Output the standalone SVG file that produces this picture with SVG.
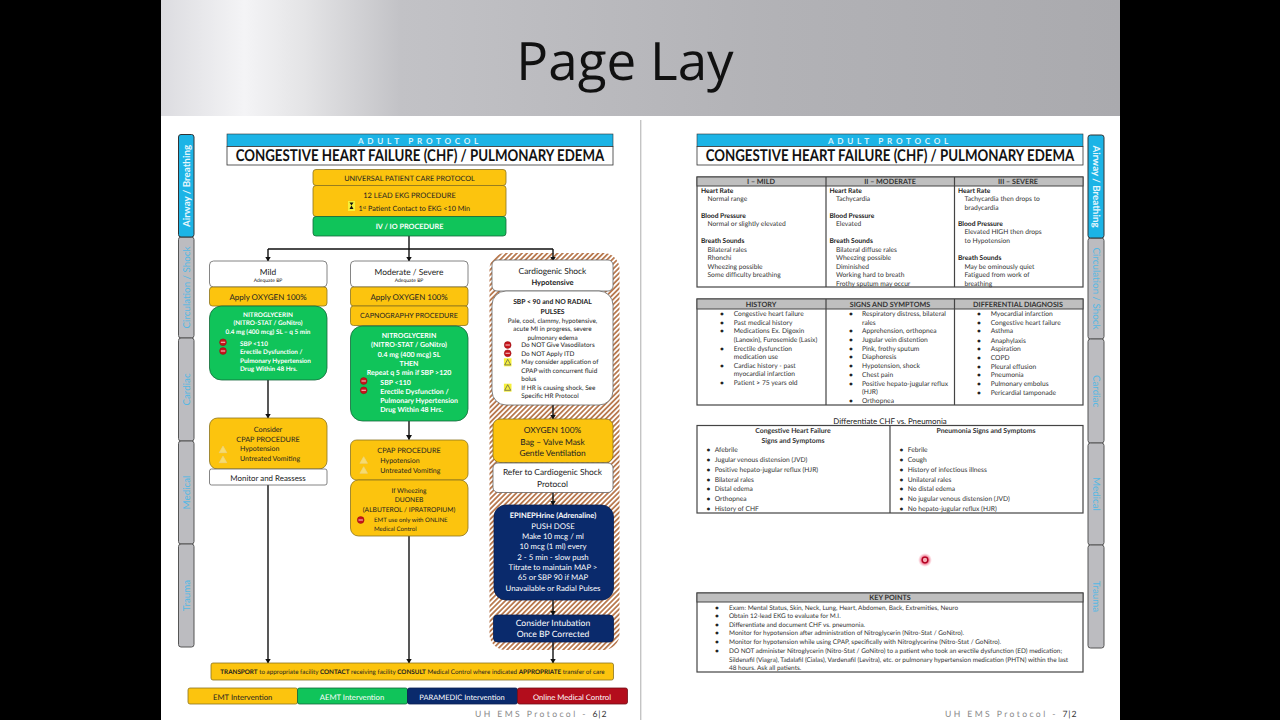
<svg xmlns="http://www.w3.org/2000/svg" width="1280" height="720" viewBox="0 0 1280 720">
<style>
text{font-family:Lato,"Open Sans","Liberation Sans",sans-serif;fill:#222;text-rendering:geometricPrecision}
.c{text-anchor:middle}
.b{font-weight:700}
.o{fill:#fcc40e;stroke:#8a7420;stroke-width:.8}
.g{fill:#10c45a;stroke:#14683a;stroke-width:.8}
.w{fill:#fff;stroke:#666;stroke-width:.8}
.n{fill:#0a2a6c;stroke:#0a2050;stroke-width:.8}
.t{fill:#bcbcc0;stroke:#555;stroke-width:1}
.tb{fill:#1cb4e6;stroke:#333;stroke-width:1}
.tl{font-size:9.800px;fill:#55b8e4;text-anchor:middle}
.ta{font-size:9.800px;fill:#e8f7fd;text-anchor:middle;font-weight:700}
.wt{fill:#fff}
.f8{font-size:7.700px}
.f7{font-size:7px}
.f6{font-size:6.400px}
.fm{font-size:8.400px}
.tx{font-size:6.700px;fill:#333}
.tx2{font-size:6.700px;fill:#222;font-weight:700}
.kp{font-size:6.450px;fill:#333}
.hd{font-size:7.200px;font-weight:700;text-anchor:middle;fill:#333}
.hs{font-size:6.900px;font-weight:700;text-anchor:middle;fill:#333}
.box{fill:#fff;stroke:#444;stroke-width:1.2}
.hbar{fill:#bfbfbf;stroke:#444;stroke-width:1}
.line{fill:none;stroke:#111;stroke-width:1.4}
.ti{font-size:16.200px;font-weight:700;fill:#111}
.ad{font-size:8.200px;fill:#d8f3fc;font-weight:700;text-anchor:middle;letter-spacing:3.700px}
.ft{font-size:8.600px;fill:#8a8a8a;letter-spacing:2.400px}
.dv{stroke:#444;stroke-width:1.2}
</style>
<defs>
<pattern id="hatch" width="3.600" height="3.600" patternUnits="userSpaceOnUse" patternTransform="rotate(45)">
<rect width="3.600" height="3.600" fill="#fff"/><rect width="1.800" height="3.600" fill="#b97a50"/>
</pattern>
<linearGradient id="top" x1="0" y1="0" x2="1" y2="0"><stop offset="0" stop-color="#dcdce0"/><stop offset=".087" stop-color="#f4f4f6"/><stop offset=".15" stop-color="#e4e4e6"/><stop offset=".25" stop-color="#c2c2c6"/><stop offset=".64" stop-color="#b2b2b6"/><stop offset="1" stop-color="#aaaaae"/></linearGradient>
<radialGradient id="glow"><stop offset="0" stop-color="#d8143a"/><stop offset=".4" stop-color="#e8355a"/><stop offset="1" stop-color="#f5a0b0" stop-opacity="0"/></radialGradient>
<marker id="ah" markerWidth="6" markerHeight="6" refX="4.500" refY="3" orient="auto" markerUnits="userSpaceOnUse"><path d="M0 0L5 3L0 6z" fill="#111"/></marker>
<g id="stop"><circle r="3.400" fill="#c8141c" stroke="#8a1010" stroke-width=".5"/><rect x="-2.200" y="-.6" width="4.400" height="1.200" fill="#f2b0b0"/></g>
<g id="warn"><path d="M0-3.600L3.800 3H-3.800z" fill="#f7dc6c" stroke="#e8d090" stroke-width=".6"/></g>
<g id="warny"><rect x="-3.800" y="-4" width="7.600" height="8" fill="#f6f03a"/><path d="M0-3L3 2.600H-3z" fill="none" stroke="#555" stroke-width=".7"/></g>
</defs>
<rect width="1280" height="720" fill="#000"/>
<rect x="161" y="0" width="959" height="720" fill="#fff"/>
<rect x="161" y="0" width="959" height="116" fill="url(#top)"/>
<rect x="640" y="120" width="1.400" height="600" fill="#c4c4c4"/>
<text x="625" y="80" class="c" style="font-family:'Open Sans',sans-serif;font-size:53px;fill:#111">Page Lay</text>

<g id="tabs-left">
<rect class="t" x="178.500" y="237" width="15.500" height="101" rx="2.500"/><text class="tl" transform="translate(190,287.500) rotate(-90)">Circulation / Shock</text>
<rect class="t" x="178.500" y="338" width="15.500" height="103" rx="2.500"/><text class="tl" transform="translate(190,389.500) rotate(-90)">Cardiac</text>
<rect class="t" x="178.500" y="441" width="15.500" height="103" rx="2.500"/><text class="tl" transform="translate(190,492.500) rotate(-90)">Medical</text>
<rect class="t" x="178.500" y="544" width="15.500" height="103" rx="2.500"/><text class="tl" transform="translate(190,595.500) rotate(-90)">Trauma</text>
<rect class="tb" x="178.500" y="134.500" width="15.500" height="102.500" rx="2.500"/><text class="ta" transform="translate(190,186) rotate(-90)">Airway / Breathing</text>
</g>
<g id="tabs-right">
<rect class="t" x="1088" y="238" width="16" height="101" rx="2.500"/><text class="tl" transform="translate(1092.500,288.500) rotate(90)">Circulation / Shock</text>
<rect class="t" x="1088" y="339" width="16" height="104" rx="2.500"/><text class="tl" transform="translate(1092.500,391) rotate(90)">Cardiac</text>
<rect class="t" x="1088" y="443" width="16" height="102" rx="2.500"/><text class="tl" transform="translate(1092.500,494) rotate(90)">Medical</text>
<rect class="t" x="1088" y="545" width="16" height="103" rx="2.500"/><text class="tl" transform="translate(1092.500,596.500) rotate(90)">Trauma</text>
<rect class="tb" x="1088" y="135" width="16" height="103" rx="2.500"/><text class="ta" transform="translate(1092.500,186.500) rotate(90)">Airway / Breathing</text>
</g>

<g id="header-left">
<rect x="227" y="134" width="386" height="12.500" fill="#1cb4e6" stroke="#333" stroke-width=".6"/>
<text x="420" y="143.800" class="ad">ADULT PROTOCOL</text>
<rect x="227" y="146.500" width="386" height="18.500" fill="#fff" stroke="#333" stroke-width=".8"/>
<text x="235.700" y="161" class="ti" textLength="368.500" lengthAdjust="spacingAndGlyphs">CONGESTIVE HEART FAILURE (CHF) / PULMONARY EDEMA</text>
</g>
<g id="header-right">
<rect x="697" y="134" width="386" height="12.500" fill="#1cb4e6" stroke="#333" stroke-width=".6"/>
<text x="890" y="143.800" class="ad">ADULT PROTOCOL</text>
<rect x="697" y="146.500" width="386" height="18.500" fill="#fff" stroke="#333" stroke-width=".8"/>
<text x="705.700" y="161" class="ti" textLength="368.500" lengthAdjust="spacingAndGlyphs">CONGESTIVE HEART FAILURE (CHF) / PULMONARY EDEMA</text>
</g>

<g id="hazard"><rect x="489.500" y="253" width="130" height="397" rx="16" fill="url(#hatch)"/></g>

<g id="connectors">
<path class="line" d="M409 236V249M268 249H553"/>
<path class="line" d="M268 249V261" marker-end="url(#ah)"/>
<path class="line" d="M409 249V261" marker-end="url(#ah)"/>
<path class="line" d="M553 249V261" marker-end="url(#ah)"/>
<path class="line" d="M268 380V418" marker-end="url(#ah)"/>
<path class="line" d="M409 421V439.500" marker-end="url(#ah)"/>
<path class="line" d="M268 485V663" marker-end="url(#ah)"/>
<path class="line" d="M409 536V663" marker-end="url(#ah)"/>
<path class="line" d="M553 405V419" marker-end="url(#ah)"/>
<path class="line" d="M553 492V505" marker-end="url(#ah)"/>
<path class="line" d="M553 600V615" marker-end="url(#ah)"/>
<path class="line" d="M553 642V663" marker-end="url(#ah)"/>
</g>

<g id="n-universal"><rect class="o" x="313" y="169.500" width="193" height="16" rx="3"/><text x="409.500" y="181" class="c" style="font-size:7.300px">UNIVERSAL PATIENT CARE PROTOCOL</text></g>
<g id="n-ekg"><rect class="o" x="313" y="185.500" width="193" height="31" rx="3"/><text x="409.500" y="197.500" class="c" style="font-size:7.500px">12 LEAD EKG PROCEDURE</text>
<rect x="348" y="201" width="7" height="10" fill="#f6f03a"/><path d="M349.500 202.500h4l-2 3l2 3.500h-4l2-3.500z" fill="#111"/>
<text x="358.500" y="210.500" style="font-size:7.200px">1<tspan dy="-2" font-size="4.500">st</tspan><tspan dy="2"> Patient Contact to EKG &lt;10 Min</tspan></text></g>
<g id="n-ivio"><rect class="g" x="313" y="216.500" width="193" height="19.500" rx="3"/><text x="409.500" y="228.500" class="c wt b" style="font-size:7.300px">IV / IO PROCEDURE</text></g>

<g id="n-mild"><rect class="w" x="209.500" y="261" width="117.500" height="26" rx="4"/><text x="268" y="274.500" class="c fm">Mild</text><text x="268" y="282.200" class="c" style="font-size:5px">Adequate BP</text></g>
<g id="n-oxy1"><rect class="o" x="209.500" y="287" width="117.500" height="19" rx="3"/><text x="268" y="299.500" class="c" style="font-size:8px">Apply OXYGEN 100%</text></g>
<g id="n-nitro1"><rect class="g" x="209.500" y="306" width="117.500" height="74" rx="12"/>
<text x="268" y="317" class="c f6 wt b">NITROGLYCERIN</text><text x="268" y="325" class="c f6 wt b">(NITRO-STAT / GoNitro)</text><text x="268" y="334" class="c f6 wt b">0.4 mg (400 mcg) SL – q 5 min</text>
<use href="#stop" x="223" y="342.300"/><use href="#stop" x="223" y="351"/>
<text x="240" y="346" class="f6 wt b">SBP &lt;110</text><text x="240" y="354.300" class="f6 wt b">Erectile Dysfunction /</text><text x="240" y="363" class="f6 wt b">Pulmonary Hypertension</text><text x="240" y="370.500" class="f6 wt b">Drug Within 48 Hrs.</text></g>
<g id="n-cpap1"><rect class="o" x="209.500" y="418" width="117.500" height="51" rx="8"/>
<text x="268" y="431.500" class="c" style="font-size:7.300px">Consider</text><text x="268" y="441.500" class="c" style="font-size:7.300px">CPAP PROCEDURE</text>
<use href="#warn" x="223" y="449.700"/><use href="#warn" x="223" y="459.700"/>
<text x="240" y="451.400" class="f7">Hypotension</text><text x="240" y="461.400" class="f7">Untreated Vomiting</text></g>
<g id="n-monitor"><rect class="w" x="209.500" y="469" width="117.500" height="16" rx="2"/><text x="268" y="480.500" class="c" style="font-size:7.900px">Monitor and Reassess</text></g>

<g id="n-mod"><rect class="w" x="350.500" y="261" width="117.500" height="26" rx="4"/><text x="409" y="274.500" class="c fm">Moderate / Severe</text><text x="409" y="282.200" class="c" style="font-size:5px">Adequate BP</text></g>
<g id="n-oxy2"><rect class="o" x="350.500" y="287" width="117.500" height="19" rx="3"/><text x="409" y="299.500" class="c" style="font-size:8px">Apply OXYGEN 100%</text></g>
<g id="n-capno"><rect class="o" x="350.500" y="306" width="117.500" height="19.500" rx="3"/><text x="409" y="317.700" class="c" style="font-size:7.150px">CAPNOGRAPHY PROCEDURE</text></g>
<g id="n-nitro2"><rect class="g" x="350.500" y="326" width="117.500" height="95" rx="12"/>
<text x="409" y="338" class="c f7 wt b">NITROGLYCERIN</text><text x="409" y="347.300" class="c f7 wt b">(NITRO-STAT / GoNitro)</text><text x="409" y="356.700" class="c f7 wt b">0.4 mg (400 mcg) SL</text><text x="409" y="366" class="c f7 wt b">THEN</text><text x="409" y="375.400" class="c f7 wt b">Repeat q 5 min if SBP &gt;120</text>
<use href="#stop" x="363.700" y="381"/><use href="#stop" x="363.700" y="390.300"/>
<text x="380.300" y="384.700" class="f7 wt b">SBP &lt;110</text><text x="380.300" y="393.700" class="f7 wt b">Erectile Dysfunction /</text><text x="380.300" y="403" class="f7 wt b">Pulmonary Hypertension</text><text x="380.300" y="412.400" class="f7 wt b">Drug Within 48 Hrs.</text></g>
<g id="n-cpap2"><rect class="o" x="350.500" y="440" width="117.500" height="40" rx="6"/>
<text x="409" y="453" class="c" style="font-size:7.300px">CPAP PROCEDURE</text>
<use href="#warn" x="363.700" y="460.300"/><use href="#warn" x="363.700" y="470.300"/>
<text x="380.300" y="462.700" class="f7">Hypotension</text><text x="380.300" y="472.700" class="f7">Untreated Vomiting</text></g>
<g id="n-wheeze"><rect class="o" x="350.500" y="480" width="117.500" height="56" rx="8"/>
<text x="409" y="492.800" class="c" style="font-size:6.700px">If Wheezing</text><text x="409" y="502.200" class="c" style="font-size:6.700px">DUONEB</text><text x="409" y="511.500" class="c" style="font-size:6.700px">(ALBUTEROL / IPRATROPIUM)</text>
<use href="#stop" x="360.700" y="520"/>
<text x="374" y="522.300" style="font-size:6.100px">EMT use only with ONLINE</text><text x="374" y="531" style="font-size:6.100px">Medical Control</text></g>

<g id="n-cardio"><rect class="w" x="492" y="260" width="121" height="31" rx="5"/><text x="552.500" y="274.300" class="c fm">Cardiogenic Shock</text><text x="552.500" y="285" class="c b" style="font-size:7.500px">Hypotensive</text></g>
<g id="n-sbp"><rect class="w" x="492" y="291" width="121" height="114" rx="14"/>
<text x="552.500" y="304.300" class="c b" style="font-size:6.800px">SBP &lt; 90 and NO RADIAL</text><text x="552.500" y="313.600" class="c b" style="font-size:6.800px">PULSES</text>
<text x="552.500" y="322.800" class="c f6">Pale, cool, clammy, hypotensive,</text><text x="552.500" y="331" class="c f6">acute MI in progress, severe</text><text x="552.500" y="339.600" class="c f6">pulmonary edema</text>
<use href="#stop" x="507.700" y="345"/><use href="#stop" x="507.700" y="353.300"/><use href="#warny" x="507.700" y="362.300"/><use href="#warny" x="507.700" y="387.700"/>
<text x="521.300" y="347.300" class="f6">Do NOT Give Vasodilators</text><text x="521.300" y="356" class="f6">Do NOT Apply ITD</text><text x="521.300" y="364.300" class="f6">May consider application of</text><text x="521.300" y="373" class="f6">CPAP with concurrent fluid</text><text x="521.300" y="381.300" class="f6">bolus</text><text x="521.300" y="389.600" class="f6">If HR is causing shock, See</text><text x="521.300" y="398.300" class="f6">Specific HR Protocol</text></g>
<g id="n-oxy3"><rect class="o" x="493" y="419" width="120" height="43.500" rx="7"/><text x="552.500" y="433" class="c fm">OXYGEN 100%</text><text x="552.500" y="444.700" class="c fm">Bag – Valve Mask</text><text x="552.500" y="456" class="c fm">Gentle Ventilation</text></g>
<g id="n-refer"><rect class="w" x="493" y="463" width="120" height="29.500" rx="5"/><text x="552.500" y="475.300" class="c fm">Refer to Cardiogenic Shock</text><text x="552.500" y="486.700" class="c fm">Protocol</text></g>
<g id="n-epi"><rect class="n" x="494" y="505" width="119.500" height="95" rx="12"/>
<text x="553" y="518.400" class="c wt b" style="font-size:7.500px">EPINEPHrine (Adrenaline)</text><text x="553" y="529" class="c wt" style="font-size:7.800px">PUSH DOSE</text><text x="553" y="539" class="c wt" style="font-size:7.800px">Make 10 mcg / ml</text><text x="553" y="549.400" class="c wt" style="font-size:7.800px">10 mcg (1 ml) every</text><text x="553" y="559.700" class="c wt" style="font-size:7.800px">2 - 5 min - slow push</text><text x="553" y="569.700" class="c wt" style="font-size:7.800px">Titrate to  maintain MAP &gt;</text><text x="553" y="579.700" class="c wt" style="font-size:7.800px">65 or SBP 90 if MAP</text><text x="553" y="590.700" class="c wt" style="font-size:7.800px">Unavailable or Radial Pulses</text></g>
<g id="n-intub"><rect class="n" x="493.500" y="615" width="120" height="27" rx="4"/><text x="553" y="625.500" class="c wt" style="font-size:8.600px">Consider Intubation</text><text x="553" y="636.500" class="c wt" style="font-size:8.600px">Once BP Corrected</text></g>

<g id="n-transport"><rect class="o" x="211" y="663" width="402.500" height="17" rx="2"/><text x="412.500" y="673.600" class="c" style="font-size:6.300px"><tspan class="b">TRANSPORT</tspan> to appropriate facility <tspan class="b">CONTACT</tspan> receiving facility <tspan class="b">CONSULT</tspan> Medical Control where indicated <tspan class="b">APPROPRIATE</tspan> transfer of care</text></g>
<g id="legend">
<rect class="o" x="188" y="688" width="109.500" height="16" rx="2"/><text x="242.700" y="699.700" class="c f8">EMT Intervention</text>
<rect class="g" x="297.500" y="688" width="110" height="16" rx="2"/><text x="352" y="699.700" class="c f8 wt">AEMT Intervention</text>
<rect class="n" x="407.500" y="688" width="110" height="16" rx="2"/><text x="462" y="699.700" class="c wt" style="font-size:7.500px">PARAMEDIC Intervention</text>
<rect x="517.500" y="688" width="110" height="16" rx="2" fill="#b30d1c" stroke="#701018" stroke-width=".8"/><text x="572" y="699.700" class="c f8 wt">Online Medical Control</text>
</g>
<text x="475" y="717" class="ft">UH EMS Protocol - <tspan fill="#333" letter-spacing="1">6|2</tspan></text>
<text x="945" y="717" class="ft">UH EMS Protocol - <tspan fill="#333" letter-spacing="1">7|2</tspan></text>

<g id="table-severity">
<rect class="box" x="697" y="177" width="386" height="110"/><rect class="hbar" x="697" y="177" width="386" height="9"/>
<path class="dv" d="M826 177V287M954.500 177V287"/>
<text x="761" y="184.400" class="hd">I – MILD</text><text x="890" y="184.400" class="hd">II – MODERATE</text><text x="1018" y="184.400" class="hd">III – SEVERE</text>
<text x="701" y="193.400" class="tx2">Heart Rate</text><text x="707.500" y="201.300" class="tx">Normal range</text><text x="701" y="218" class="tx2">Blood Pressure</text><text x="707.500" y="226.300" class="tx">Normal or slightly elevated</text><text x="701" y="243.300" class="tx2">Breath Sounds</text><text x="707.500" y="252" class="tx">Bilateral rales</text><text x="707.500" y="260.300" class="tx">Rhonchi</text><text x="707.500" y="269" class="tx">Wheezing possible</text><text x="707.500" y="277" class="tx">Some difficulty breathing</text>
<text x="829.500" y="193.400" class="tx2">Heart Rate</text><text x="836" y="201.300" class="tx">Tachycardia</text><text x="829.500" y="218" class="tx2">Blood Pressure</text><text x="836" y="226.300" class="tx">Elevated</text><text x="829.500" y="243.300" class="tx2">Breath Sounds</text><text x="836" y="252" class="tx">Bilateral diffuse rales</text><text x="836" y="260.300" class="tx">Wheezing possible</text><text x="836" y="269" class="tx">Diminished</text><text x="836" y="277" class="tx">Working hard to breath</text><text x="836" y="285.600" class="tx">Frothy sputum may occur</text>
<text x="958" y="193.400" class="tx2">Heart Rate</text><text x="964.500" y="201.300" class="tx">Tachycardia then drops to</text><text x="964.500" y="210" class="tx">bradycardia</text><text x="958" y="226.300" class="tx2">Blood Pressure</text><text x="964.500" y="234.300" class="tx">Elevated HIGH then drops</text><text x="964.500" y="243.300" class="tx">to Hypotension</text><text x="958" y="260" class="tx2">Breath Sounds</text><text x="964.500" y="269" class="tx">May be ominously quiet</text><text x="964.500" y="277" class="tx">Fatigued from work of</text><text x="964.500" y="286" class="tx">breathing</text>
</g>
<g id="table-history">
<rect class="box" x="697" y="299" width="386" height="106"/><rect class="hbar" x="697" y="299" width="386" height="10"/>
<path class="dv" d="M826 299V405M954.500 299V405"/>
<text x="761" y="306.800" class="hd">HISTORY</text><text x="890" y="306.800" class="hd">SIGNS AND SYMPTOMS</text><text x="1018" y="306.800" class="hd">DIFFERENTIAL DIAGNOSIS</text>
<text x="720" y="316" class="tx2">•</text><text x="733.700" y="316" class="tx">Congestive heart failure</text><text x="720" y="324.600" class="tx2">•</text><text x="733.700" y="324.600" class="tx">Past medical history</text><text x="720" y="333.300" class="tx2">•</text><text x="733.700" y="333.300" class="tx">Medications Ex. Digoxin</text><text x="733.700" y="342" class="tx">(Lanoxin), Furosemide (Lasix)</text><text x="720" y="350.600" class="tx2">•</text><text x="733.700" y="350.600" class="tx">Erectile dysfunction</text><text x="733.700" y="359.300" class="tx">medication use</text><text x="720" y="368" class="tx2">•</text><text x="733.700" y="368" class="tx">Cardiac history - past</text><text x="733.700" y="376.300" class="tx">myocardial infarction</text><text x="720" y="385" class="tx2">•</text><text x="733.700" y="385" class="tx">Patient &gt; 75 years old</text>
<text x="849" y="316" class="tx2">•</text><text x="862" y="316" class="tx">Respiratory distress, bilateral</text><text x="862" y="324.600" class="tx">rales</text><text x="849" y="333.300" class="tx2">•</text><text x="862" y="333.300" class="tx">Apprehension, orthopnea</text><text x="849" y="342" class="tx2">•</text><text x="862" y="342" class="tx">Jugular vein distention</text><text x="849" y="350.600" class="tx2">•</text><text x="862" y="350.600" class="tx">Pink, frothy sputum</text><text x="849" y="359.300" class="tx2">•</text><text x="862" y="359.300" class="tx">Diaphoresis</text><text x="849" y="368" class="tx2">•</text><text x="862" y="368" class="tx">Hypotension, shock</text><text x="849" y="376.600" class="tx2">•</text><text x="862" y="376.600" class="tx">Chest pain</text><text x="849" y="386" class="tx2">•</text><text x="862" y="386" class="tx">Positive hepato-jugular reflux</text><text x="862" y="394.300" class="tx">(HJR)</text><text x="849" y="403" class="tx2">•</text><text x="862" y="403" class="tx">Orthopnea</text>
<text x="977" y="316" class="tx2">•</text><text x="990.700" y="316" class="tx">Myocardial infarction</text><text x="977" y="324.600" class="tx2">•</text><text x="990.700" y="324.600" class="tx">Congestive heart failure</text><text x="977" y="333.300" class="tx2">•</text><text x="990.700" y="333.300" class="tx">Asthma</text><text x="977" y="342.700" class="tx2">•</text><text x="990.700" y="342.700" class="tx">Anaphylaxis</text><text x="977" y="351.300" class="tx2">•</text><text x="990.700" y="351.300" class="tx">Aspiration</text><text x="977" y="360" class="tx2">•</text><text x="990.700" y="360" class="tx">COPD</text><text x="977" y="368.600" class="tx2">•</text><text x="990.700" y="368.600" class="tx">Pleural effusion</text><text x="977" y="377.300" class="tx2">•</text><text x="990.700" y="377.300" class="tx">Pneumonia</text><text x="977" y="386" class="tx2">•</text><text x="990.700" y="386" class="tx">Pulmonary embolus</text><text x="977" y="395" class="tx2">•</text><text x="990.700" y="395" class="tx">Pericardial tamponade</text>
</g>
<g id="table-differentiate">
<text x="890" y="423.500" class="c" style="font-size:7.900px;fill:#222">Differentiate CHF vs. Pneumonia</text>
<rect class="box" x="697" y="425.500" width="386" height="87.500"/><path class="dv" d="M890 425.500V513"/>
<text x="793" y="433.400" class="hs">Congestive Heart Failure</text><text x="793" y="443" class="hs">Signs and Symptoms</text><text x="986" y="433.400" class="hs">Pneumonia Signs and Symptoms</text>
<text x="706.500" y="452.300" class="tx2">•</text><text x="706.500" y="462.300" class="tx2">•</text><text x="706.500" y="471.600" class="tx2">•</text><text x="706.500" y="481.600" class="tx2">•</text><text x="706.500" y="491.300" class="tx2">•</text><text x="706.500" y="501.300" class="tx2">•</text><text x="706.500" y="510.600" class="tx2">•</text><text x="899.500" y="452.300" class="tx2">•</text><text x="899.500" y="462.300" class="tx2">•</text><text x="899.500" y="471.600" class="tx2">•</text><text x="899.500" y="481.600" class="tx2">•</text><text x="899.500" y="491.300" class="tx2">•</text><text x="899.500" y="501.300" class="tx2">•</text><text x="899.500" y="510.600" class="tx2">•</text>
<text x="714.700" y="452.300" class="tx">Afebrile</text><text x="714.700" y="462.300" class="tx">Jugular venous distension (JVD)</text><text x="714.700" y="471.600" class="tx">Positive hepato-jugular reflux (HJR)</text><text x="714.700" y="481.600" class="tx">Bilateral rales</text><text x="714.700" y="491.300" class="tx">Distal edema</text><text x="714.700" y="501.300" class="tx">Orthopnea</text><text x="714.700" y="510.600" class="tx">History of CHF</text>
<text x="907.700" y="452.300" class="tx">Febrile</text><text x="907.700" y="462.300" class="tx">Cough</text><text x="907.700" y="471.600" class="tx">History of infectious illness</text><text x="907.700" y="481.600" class="tx">Unilateral rales</text><text x="907.700" y="491.300" class="tx">No distal edema</text><text x="907.700" y="501.300" class="tx">No jugular venous distension (JVD)</text><text x="907.700" y="510.600" class="tx">No hepato-jugular reflux (HJR)</text>
</g>
<g id="pointer"><circle cx="925" cy="560" r="7" fill="url(#glow)"/><circle cx="925" cy="560" r="2.800" fill="#f4b0b8" stroke="#b00020" stroke-width="1.300"/></g>
<g id="table-keypoints">
<rect class="box" x="697" y="593" width="386" height="79"/><rect class="hbar" x="697" y="593" width="386" height="9"/>
<text x="890" y="600.400" class="hd">KEY POINTS</text>
<text x="715" y="609.600" class="tx2">•</text><text x="729" y="609.600" class="kp">Exam: Mental Status, Skin, Neck, Lung, Heart, Abdomen, Back, Extremities, Neuro</text>
<text x="715" y="617.600" class="tx2">•</text><text x="729" y="617.600" class="kp">Obtain 12-lead EKG to evaluate for M.I.</text>
<text x="715" y="626.600" class="tx2">•</text><text x="729" y="626.600" class="kp">Differentiate and document CHF vs. pneumonia.</text>
<text x="715" y="635.300" class="tx2">•</text><text x="729" y="635.300" class="kp">Monitor for hypotension after administration of Nitroglycerin (Nitro-Stat / GoNitro).</text>
<text x="715" y="644" class="tx2">•</text><text x="729" y="644" class="kp">Monitor for hypotension while using CPAP, specifically with Nitroglycerine (Nitro-Stat / GoNitro).</text>
<text x="715" y="652.600" class="tx2">•</text><text x="729" y="652.600" class="kp">DO NOT administer Nitroglycerin (Nitro-Stat / GoNitro) to a patient who took an erectile dysfunction (ED) medication;</text>
<text x="729" y="662" class="kp">Sildenafil (Viagra), Tadalafil (Cialas), Vardenafil (Levitra), etc. or pulmonary hypertension medication (PHTN) within the last</text>
<text x="729" y="670" class="kp">48 hours. Ask all patients.</text>
</g>
</svg>
